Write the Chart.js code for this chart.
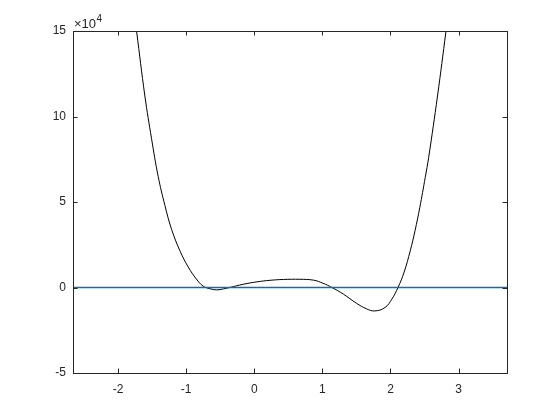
<!DOCTYPE html>
<html>
<head>
<meta charset="utf-8">
<script src="https://cdn.jsdelivr.net/npm/chart.js@4"></script>
<style>
    body { margin: 0; background: #fff; }
    canvas { display: block; }
</style>
</head>
<body>
<canvas id="myChart" width="560" height="420"></canvas>
<script>
// curve, y in units of 1e4
var xValues = [-1.727, -1.605, -1.507, -1.41, -1.311, -1.213, -1.091, -0.969, -0.85, -0.75, -0.65, -0.55,
    -0.45, -0.36, -0.16, 0.04, 0.23, 0.43, 0.67, 0.87, 1.01, 1.14, 1.31, 1.50, 1.65, 1.77,
    1.92, 2.02, 2.11, 2.20, 2.29, 2.36, 2.43, 2.51, 2.56, 2.69, 2.815];
var yValues = [15.0, 11.2, 8.7, 6.5, 4.8, 3.4, 2.15, 1.2, 0.5, 0.08, -0.07, -0.14,
    -0.08, 0.0, 0.19, 0.33, 0.42, 0.47, 0.48, 0.43, 0.25, 0.0, -0.39, -0.92, -1.25, -1.37,
    -1.17, -0.68, 0.0, 0.9, 2.15, 3.32, 4.68, 6.44, 7.6, 11.2, 15.0];

var xLimits = [-2.66, 3.71];
var yLimits = [-5, 15];
var xTicks = [-2, -1, 0, 1, 2, 3];
var yTicks = [-5, 0, 5, 10, 15];
var zeroLevel = 0;

var axisColor = '#262626';
var fontFamily = '"Liberation Sans", Arial, Helvetica, sans-serif';

var curve = xValues.map(function (x, i) {
    return {x: x, y: yValues[i]};
});
var zeroLine = [{x: xLimits[0], y: zeroLevel}, {x: xLimits[1], y: zeroLevel}];

// box, inward ticks and the x10^4 exponent label
var matlabAxes = {
    id: 'matlabAxes',
    afterDraw: function (chart) {
        var ctx = chart.ctx;
        var area = chart.chartArea;
        var xs = chart.scales.x;
        var ys = chart.scales.y;
        var len = 4.5;
        ctx.save();
        ctx.strokeStyle = axisColor;
        ctx.lineWidth = 1;
        ctx.strokeRect(Math.round(area.left) + 0.5, Math.round(area.top) + 0.5,
            Math.round(area.right - area.left), Math.round(area.bottom - area.top));
        ctx.beginPath();
        xTicks.forEach(function (v) {
            var px = Math.round(xs.getPixelForValue(v)) + 0.5;
            ctx.moveTo(px, area.bottom);
            ctx.lineTo(px, area.bottom - len);
            ctx.moveTo(px, area.top);
            ctx.lineTo(px, area.top + len);
        });
        yTicks.forEach(function (v) {
            var py = Math.round(ys.getPixelForValue(v)) + 0.5;
            ctx.moveTo(area.left, py);
            ctx.lineTo(area.left + len, py);
            ctx.moveTo(area.right, py);
            ctx.lineTo(area.right - len, py);
        });
        ctx.stroke();

        ctx.fillStyle = axisColor;
        ctx.textBaseline = 'alphabetic';
        ctx.textAlign = 'left';
        ctx.font = '13px ' + fontFamily;
        var x0 = area.left + 1;
        var base = area.top - 3;
        ctx.fillText('\u00d710', x0, base);
        var w = ctx.measureText('\u00d710').width;
        ctx.font = '10px ' + fontFamily;
        ctx.fillText('4', x0 + w + 0.5, base - 6);
        ctx.restore();
    }
};

var chart = new Chart(document.getElementById('myChart').getContext('2d'), {
    type: 'scatter',
    data: {
        datasets: [
            {
                data: zeroLine,
                showLine: true,
                borderColor: '#0072BD',
                borderWidth: 1.3,
                pointRadius: 0
            },
            {
                data: curve,
                showLine: true,
                borderColor: '#000000',
                borderWidth: 1,
                pointRadius: 0,
                tension: 0.4
            }
        ]
    },
    options: {
        responsive: false,
        animation: false,
        layout: {
            padding: {top: 31, right: 53, left: 0, bottom: 0}
        },
        plugins: {
            legend: {display: false},
            tooltip: {enabled: false}
        },
        scales: {
            x: {
                type: 'linear',
                min: xLimits[0],
                max: xLimits[1],
                afterFit: function (scale) { scale.height = 47; },
                afterBuildTicks: function (scale) {
                    scale.ticks = xTicks.map(function (v) { return {value: v}; });
                },
                grid: {display: false, drawTicks: false},
                border: {display: false},
                ticks: {
                    color: axisColor,
                    padding: 9,
                    maxRotation: 0,
                    font: {family: fontFamily, size: 12}
                }
            },
            y: {
                type: 'linear',
                min: yLimits[0],
                max: yLimits[1],
                afterFit: function (scale) { scale.width = 73; },
                afterBuildTicks: function (scale) {
                    scale.ticks = yTicks.map(function (v) { return {value: v}; });
                },
                grid: {display: false, drawTicks: false},
                border: {display: false},
                ticks: {
                    color: axisColor,
                    padding: 7,
                    font: {family: fontFamily, size: 12}
                }
            }
        }
    },
    plugins: [matlabAxes]
});
</script>
</body>
</html>
